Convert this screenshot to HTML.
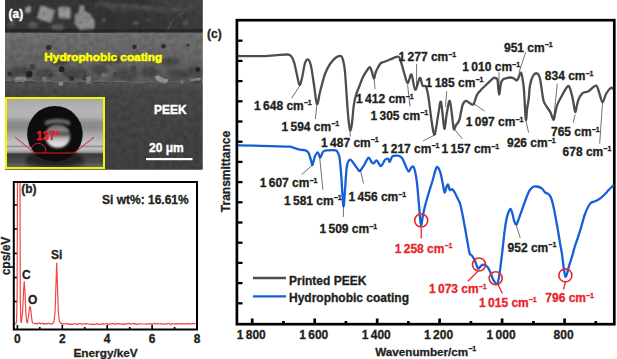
<!DOCTYPE html>
<html><head><meta charset="utf-8"><style>
html,body{margin:0;padding:0;background:#fff;}
body{width:617px;height:359px;position:relative;overflow:hidden;font-family:"Liberation Sans",sans-serif;}
svg{position:absolute;left:0;top:0;}
.t{font-family:"Liberation Sans",sans-serif;font-weight:bold;font-size:12px;fill:#231f20;stroke:#231f20;stroke-width:0.3px;}
.sup{font-size:7px;}
</style></head><body>

<svg width="617" height="359" viewBox="0 0 617 359">
<defs><clipPath id="semclip"><rect x="5" y="0" width="197.5" height="169.5"/></clipPath><clipPath id="insclip"><rect x="6" y="98" width="98" height="70"/></clipPath><clipPath id="dropclip"><circle cx="54.9" cy="133.8" r="27.8"/></clipPath><filter id="bl1" x="-20%" y="-20%" width="140%" height="140%"><feGaussianBlur stdDeviation="0.8"/></filter><filter id="bl2" x="-30%" y="-30%" width="160%" height="160%"><feGaussianBlur stdDeviation="1.6"/></filter><filter id="bl3" x="-30%" y="-30%" width="160%" height="160%"><feGaussianBlur stdDeviation="3"/></filter><filter id="bl05" x="-30%" y="-30%" width="160%" height="160%"><feGaussianBlur stdDeviation="0.5"/></filter><filter id="noise" x="0" y="0" width="100%" height="100%"><feTurbulence type="fractalNoise" baseFrequency="0.18" numOctaves="2" seed="7"/><feColorMatrix type="matrix" values="0 0 0 0 0  0 0 0 0 0  0 0 0 0 0  0 0 0 -1.6 1.15"/></filter><linearGradient id="peekg" x1="0" y1="0" x2="0" y2="1"><stop offset="0" stop-color="#555"/><stop offset="0.1" stop-color="#4a4a4a"/><stop offset="1" stop-color="#424242"/></linearGradient><linearGradient id="coatg" x1="0" y1="0" x2="0" y2="1"><stop offset="0" stop-color="#7e7e7e"/><stop offset="0.1" stop-color="#737373"/><stop offset="0.5" stop-color="#6a6a6a"/><stop offset="1" stop-color="#5e5e5e"/></linearGradient><linearGradient id="topg" x1="0" y1="0" x2="1" y2="0"><stop offset="0" stop-color="#3a3a3a"/><stop offset="0.6" stop-color="#363636"/><stop offset="1" stop-color="#404040"/></linearGradient><linearGradient id="insg" x1="0" y1="0" x2="0" y2="1"><stop offset="0" stop-color="#a4a4a4"/><stop offset="0.15" stop-color="#b4b4b4"/><stop offset="0.27" stop-color="#b2b2b2"/><stop offset="0.36" stop-color="#8c8c8c"/><stop offset="0.43" stop-color="#8a8a8a"/><stop offset="0.52" stop-color="#a6a6a6"/><stop offset="0.62" stop-color="#bdbdbd"/><stop offset="0.665" stop-color="#c2c2c2"/><stop offset="0.685" stop-color="#8e8e8e"/><stop offset="0.71" stop-color="#c6c6c6"/><stop offset="0.75" stop-color="#aaaaaa"/><stop offset="0.775" stop-color="#8a8a8a"/><stop offset="0.79" stop-color="#3c3c3c"/><stop offset="0.9" stop-color="#4e4e4e"/><stop offset="0.96" stop-color="#6a6a6a"/><stop offset="1" stop-color="#5a5a5a"/></linearGradient><linearGradient id="hlg" x1="0" y1="0" x2="0" y2="1"><stop offset="0" stop-color="#555"/><stop offset="0.25" stop-color="#8a8a8a"/><stop offset="0.42" stop-color="#4a4a4a"/><stop offset="0.6" stop-color="#b8b8b8"/><stop offset="0.85" stop-color="#e4e4e4"/><stop offset="1" stop-color="#c0c0c0"/></linearGradient><radialGradient id="reflg" cx="0.5" cy="0.1" r="0.8"><stop offset="0" stop-color="#151515"/><stop offset="0.7" stop-color="#262626"/><stop offset="1" stop-color="#3a3a3a" stop-opacity="0"/></radialGradient></defs>
<g clip-path="url(#semclip)">
<rect x="5" y="0" width="198" height="170" fill="url(#peekg)"/>
<rect x="5" y="0" width="198" height="31" fill="url(#topg)"/>
<path d="M100,2 L185,8 L192,13 L105,8 Z" fill="#505050" filter="url(#bl2)"/>
<path d="M150,0 L203,0 L203,12 L170,6 Z" fill="#464646" filter="url(#bl2)"/>
<path d="M168,30 Q172,16 184,13" stroke="#5a5a5a" stroke-width="1" fill="none" filter="url(#bl05)"/>
<rect x="5" y="83" width="198" height="87" fill="url(#peekg)"/>
<path d="M5,32 L100,32.5 L203,30 L203,80 L175,81.5 L140,82.5 L100,81.2 L80,81.5 L55,82 L30,80.8 L5,81.5 Z" fill="url(#coatg)"/>
<rect x="5" y="29" width="198" height="3.6" fill="#2a2a2a" filter="url(#bl05)"/>
<g filter="url(#bl1)">
<ellipse cx="33" cy="25" rx="5" ry="3.5" fill="#5c5c5c"/>
<ellipse cx="58" cy="27" rx="7" ry="3.2" fill="#5e5e5e"/>
<ellipse cx="12" cy="24" rx="4" ry="3" fill="#555"/>
<path d="M40.8,4.9 L55.4,10.3 L51.1,23.1 L36.5,18.2 Z" fill="#959595"/>
<path d="M38,6 L40.8,4.9 L36.5,18.2 L34.5,17 Z" fill="#2e2e2e"/>
<path d="M58,7.5 Q64,5.5 70.6,7.8 L70.5,19 L58.4,18.2 Z" fill="#999"/>
<path d="M79,5.5 L84,5 L85,11 L90,14 L95,21 L94.5,29 L80,30 L74.5,24 L75,15 L79,12 Z" fill="#8f8f8f"/>
<path d="M25,8 Q28,5 31,7 L31,12 Q27,14 25,12 Z" fill="#a0a0a0"/>
<ellipse cx="100" cy="4" rx="6" ry="2" fill="#4a4a4a"/>
<ellipse cx="104" cy="20" rx="2" ry="1.5" fill="#6a6a6a"/>
<ellipse cx="136" cy="23" rx="2.5" ry="2" fill="#606060"/>
<ellipse cx="148" cy="20" rx="1.5" ry="1.5" fill="#5a5a5a"/>
<ellipse cx="186" cy="23" rx="3" ry="2" fill="#5e5e5e"/>
<ellipse cx="120" cy="10" rx="10" ry="2" fill="#444"/>
</g>
<g filter="url(#bl2)" fill="#4c4c4c">
<ellipse cx="20" cy="72" rx="12" ry="5"/>
<ellipse cx="45" cy="74" rx="10" ry="5"/>
<ellipse cx="75" cy="73" rx="12" ry="6"/>
<ellipse cx="100" cy="70" rx="8" ry="5"/>
<ellipse cx="125" cy="75" rx="12" ry="5"/>
<ellipse cx="150" cy="72" rx="10" ry="5"/>
<ellipse cx="178" cy="74" rx="12" ry="5"/>
<ellipse cx="195" cy="72" rx="8" ry="6"/>
<ellipse cx="60" cy="62" rx="10" ry="4"/>
<ellipse cx="110" cy="60" rx="12" ry="4"/>
<ellipse cx="170" cy="62" rx="10" ry="4"/>
</g>
<circle cx="48.8" cy="47.5" r="2.8" fill="#383838" filter="url(#bl05)"/>
<circle cx="32.5" cy="66.9" r="3" fill="#454545" filter="url(#bl05)"/>
<circle cx="29.3" cy="74.2" r="3.2" fill="#242424" filter="url(#bl05)"/>
<circle cx="61.7" cy="69.3" r="3" fill="#262626" filter="url(#bl05)"/>
<circle cx="9.9" cy="74.2" r="2.4" fill="#333" filter="url(#bl05)"/>
<circle cx="71.5" cy="78.2" r="2.4" fill="#303030" filter="url(#bl05)"/>
<circle cx="50.4" cy="75" r="2" fill="#404040" filter="url(#bl05)"/>
<circle cx="84.4" cy="77.4" r="2.8" fill="#444" filter="url(#bl05)"/>
<circle cx="134.5" cy="46.7" r="2.3" fill="#303030" filter="url(#bl05)"/>
<circle cx="163.5" cy="46.3" r="2.3" fill="#303030" filter="url(#bl05)"/>
<circle cx="188" cy="45" r="1.5" fill="#383838" filter="url(#bl05)"/>
<circle cx="197.7" cy="69.5" r="2.4" fill="#282828" filter="url(#bl05)"/>
<circle cx="133.4" cy="68.7" r="3.2" fill="#4c4c4c" filter="url(#bl05)"/>
<circle cx="176" cy="72" r="1.8" fill="#4a4a4a" filter="url(#bl05)"/>
<circle cx="115" cy="74" r="2.2" fill="#474747" filter="url(#bl05)"/>
<g filter="url(#bl05)" fill="#8e8e8e">
<path d="M14.7,78 Q18,75.5 22,77 Q26,76 26.5,80 L24,82.5 Q19,81 15,82.3 Z"/>
<path d="M42,77 L47,76.8 L46,83 L42.5,82 Z" fill="#7c7c7c"/>
<path d="M58.5,82 Q61,81 63.3,82.5 L62.5,86 L58.5,85.5 Z"/>
<path d="M86,77 L91,76.6 L90.5,84 L86.5,83.5 Z" fill="#858585"/>
<path d="M101.7,72.5 L108,74 L107,77.5 L102,77 Z" fill="#7a7a7a"/>
<path d="M155,76 L159,75.4 L163,78 L168.4,79.5 L166,83.7 L160,82 L156,80 Z" fill="#9a9a9a"/>
<path d="M180,80.5 L183.5,80.4 L183,83.7 L180.5,83.5 Z" fill="#888"/>
<path d="M190,79.5 L196,77.9 L201,78 L200,80.4 L191,81 Z" fill="#8a8a8a"/>
<path d="M5,81 L12,79.5 L20,81.5 L30,80 L38,82 L47,80.5 L55,82.5 L64,81 L72,82.8 L80,81 L90,82.5 L100,80.8 L110,82 L122,81.5 L140,83 L150,81.5 L162,83 L175,81.5 L188,82 L203,79.5" stroke="#727272" stroke-width="1.1" fill="none"/>
</g>
<rect x="5" y="0" width="198" height="170" filter="url(#noise)" opacity="0.18"/>
<text x="44.3" y="60.5" class="t" style="fill:#ffff00;stroke:#ffff00;stroke-width:0.6px;font-size:11.8px">Hydrophobic coating</text>
<text x="154" y="114" class="t" style="fill:#fff;stroke:#fff;stroke-width:0.4px">PEEK</text>
<text x="149" y="152" class="t" style="fill:#fff;stroke:#fff;stroke-width:0.4px">20 μm</text>
<rect x="146" y="158" width="46.5" height="2.2" fill="#fff"/>
<text x="8.5" y="18.2" class="t" style="fill:#fff;stroke:#fff;stroke-width:0.4px">(a)</text>
</g>
<g clip-path="url(#insclip)">
<rect x="5" y="97" width="100" height="72" fill="url(#insg)"/>
<ellipse cx="55" cy="162" rx="30" ry="12" fill="url(#reflg)" filter="url(#bl2)"/>
<circle cx="54.9" cy="133.8" r="27.8" fill="#0c0c0c" filter="url(#bl05)"/>
<g clip-path="url(#dropclip)">
<ellipse cx="57.8" cy="136" rx="12.5" ry="12" fill="url(#hlg)" filter="url(#bl1)"/>
<path d="M45,121 Q58,116 70,121 L70,125.5 Q58,121 45,125.5 Z" fill="#666" filter="url(#bl1)"/>
</g>
<rect x="5" y="152.2" width="100" height="17" fill="#202020" opacity="0.08"/>
<g stroke="#e01e25" fill="none" stroke-width="1">
<polyline points="15,137 34.5,153 74,153 94.2,137"/>
<path d="M31.2,148.6 A7.4,7.4 0 0 1 45.5,153"/>
</g>
<text x="36" y="140.3" class="t" style="fill:#ee1c24;stroke:#ee1c24;stroke-width:0.3px;font-size:12.3px;letter-spacing:-0.4px">137°</text>
</g>
<rect x="6" y="98" width="98" height="70" fill="none" stroke="#f5f500" stroke-width="2"/>
<rect x="236.9" y="20.2" width="377.4" height="304" fill="none" stroke="#000" stroke-width="2.7"/>
<line x1="237" y1="40.7" x2="242.5" y2="40.7" stroke="#000" stroke-width="2.3"/>
<line x1="237" y1="60.9" x2="242.5" y2="60.9" stroke="#000" stroke-width="2.3"/>
<line x1="237" y1="81.1" x2="242.5" y2="81.1" stroke="#000" stroke-width="2.3"/>
<line x1="237" y1="101.3" x2="242.5" y2="101.3" stroke="#000" stroke-width="2.3"/>
<line x1="237" y1="121.5" x2="242.5" y2="121.5" stroke="#000" stroke-width="2.3"/>
<line x1="237" y1="141.7" x2="242.5" y2="141.7" stroke="#000" stroke-width="2.3"/>
<line x1="237" y1="161.9" x2="242.5" y2="161.9" stroke="#000" stroke-width="2.3"/>
<line x1="237" y1="182.1" x2="242.5" y2="182.1" stroke="#000" stroke-width="2.3"/>
<line x1="237" y1="202.3" x2="242.5" y2="202.3" stroke="#000" stroke-width="2.3"/>
<line x1="237" y1="222.5" x2="242.5" y2="222.5" stroke="#000" stroke-width="2.3"/>
<line x1="237" y1="242.7" x2="242.5" y2="242.7" stroke="#000" stroke-width="2.3"/>
<line x1="237" y1="262.9" x2="242.5" y2="262.9" stroke="#000" stroke-width="2.3"/>
<line x1="237" y1="283.1" x2="242.5" y2="283.1" stroke="#000" stroke-width="2.3"/>
<line x1="237" y1="303.3" x2="242.5" y2="303.3" stroke="#000" stroke-width="2.3"/>
<line x1="252.2" y1="324" x2="252.2" y2="318.5" stroke="#000" stroke-width="2.7"/>
<text x="251.2" y="338.5" text-anchor="middle" class="t">1 800</text>
<line x1="283.4" y1="324" x2="283.4" y2="321" stroke="#000" stroke-width="2.7"/>
<line x1="314.7" y1="324" x2="314.7" y2="318.5" stroke="#000" stroke-width="2.7"/>
<text x="313.7" y="338.5" text-anchor="middle" class="t">1 600</text>
<line x1="345.9" y1="324" x2="345.9" y2="321" stroke="#000" stroke-width="2.7"/>
<line x1="377.2" y1="324" x2="377.2" y2="318.5" stroke="#000" stroke-width="2.7"/>
<text x="376.2" y="338.5" text-anchor="middle" class="t">1 400</text>
<line x1="408.4" y1="324" x2="408.4" y2="321" stroke="#000" stroke-width="2.7"/>
<line x1="439.6" y1="324" x2="439.6" y2="318.5" stroke="#000" stroke-width="2.7"/>
<text x="438.6" y="338.5" text-anchor="middle" class="t">1 200</text>
<line x1="470.9" y1="324" x2="470.9" y2="321" stroke="#000" stroke-width="2.7"/>
<line x1="502.1" y1="324" x2="502.1" y2="318.5" stroke="#000" stroke-width="2.7"/>
<text x="501.1" y="338.5" text-anchor="middle" class="t">1 000</text>
<line x1="533.4" y1="324" x2="533.4" y2="321" stroke="#000" stroke-width="2.7"/>
<line x1="564.6" y1="324" x2="564.6" y2="318.5" stroke="#000" stroke-width="2.7"/>
<text x="563.6" y="338.5" text-anchor="middle" class="t">800</text>
<line x1="595.8" y1="324" x2="595.8" y2="321" stroke="#000" stroke-width="2.7"/>
<text x="425.7" y="355.5" text-anchor="middle" class="t" style="font-size:11.7px">Wavenumber/cm<tspan class="sup" dy="-4.5">−1</tspan></text>
<text transform="translate(230,171.5) rotate(-90)" text-anchor="middle" class="t">Transmittance</text>
<text x="207" y="37.6" class="t">(c)</text>
<path d="M238,56 C241.67,56.03 253.83,56.32 260,56.2 C266.17,56.08 270.50,55.58 275,55.3 C279.50,55.02 284.33,54.38 287,54.5 C289.67,54.62 289.83,54.75 291,56 C292.17,57.25 293.00,58.83 294,62 C295.00,65.17 296.08,71.17 297,75 C297.92,78.83 298.67,84.50 299.5,85 C300.33,85.50 301.08,81.67 302,78 C302.92,74.33 304.00,66.08 305,63 C306.00,59.92 307.00,59.00 308,59.5 C309.00,60.00 310.00,61.75 311,66 C312.00,70.25 313.00,78.67 314,85 C315.00,91.33 316.00,102.83 317,104 C318.00,105.17 318.67,97.00 320,92 C321.33,87.00 323.33,78.67 325,74 C326.67,69.33 328.17,66.75 330,64 C331.83,61.25 334.17,58.80 336,57.5 C337.83,56.20 339.83,55.78 341,56.2 C342.17,56.62 342.33,57.37 343,60 C343.67,62.63 344.25,64.00 345,72 C345.75,80.00 346.83,99.33 347.5,108 C348.17,116.67 348.50,120.25 349,124 C349.50,127.75 350.00,130.67 350.5,130.5 C351.00,130.33 351.45,127.20 352,123 C352.55,118.80 353.13,109.97 353.8,105.3 C354.47,100.63 355.17,97.93 356,95 C356.83,92.07 357.63,90.70 358.8,87.7 C359.97,84.70 361.53,80.03 363,77 C364.47,73.97 366.43,71.12 367.6,69.5 C368.77,67.88 369.27,66.88 370,67.3 C370.73,67.72 371.35,70.12 372,72 C372.65,73.88 373.32,78.43 373.9,78.6 C374.48,78.77 375.03,74.43 375.5,73 C375.97,71.57 375.85,71.60 376.7,70 C377.55,68.40 379.30,64.78 380.6,63.4 C381.90,62.02 382.93,62.35 384.5,61.7 C386.07,61.05 387.87,60.33 390,59.5 C392.13,58.67 395.72,56.98 397.3,56.7 C398.88,56.42 398.67,56.22 399.5,57.8 C400.33,59.38 401.43,63.33 402.3,66.2 C403.17,69.07 403.78,72.13 404.7,75 C405.62,77.87 406.68,83.50 407.8,83.4 C408.92,83.30 410.17,73.35 411.4,74.4 C412.63,75.45 413.80,89.12 415.2,89.7 C416.60,90.28 418.58,78.60 419.8,77.9 C421.02,77.20 421.48,84.03 422.5,85.5 C423.52,86.97 424.92,84.83 425.9,86.7 C426.88,88.57 427.43,90.85 428.4,96.7 C429.37,102.55 430.65,115.53 431.7,121.8 C432.75,128.07 433.58,135.70 434.7,134.3 C435.82,132.90 437.37,118.83 438.4,113.4 C439.43,107.97 440.07,100.30 440.9,101.7 C441.73,103.10 442.77,117.33 443.4,121.8 C444.03,126.27 444.13,129.90 444.7,128.5 C445.27,127.10 445.95,118.00 446.8,113.4 C447.65,108.80 448.83,99.78 449.8,100.9 C450.77,102.02 451.92,115.37 452.6,120.1 C453.28,124.83 453.33,128.45 453.9,129.3 C454.47,130.15 455.10,126.73 456,125.2 C456.90,123.67 458.20,123.47 459.3,120.1 C460.40,116.73 461.48,108.20 462.6,105 C463.72,101.80 464.73,101.17 466,100.9 C467.27,100.63 468.95,102.85 470.2,103.4 C471.45,103.95 472.38,105.60 473.5,104.2 C474.62,102.80 475.82,97.22 476.9,95 C477.98,92.78 478.48,92.57 480,90.9 C481.52,89.23 483.75,87.15 486,85 C488.25,82.85 491.83,79.08 493.5,78 C495.17,76.92 495.33,78.17 496,78.5 C496.67,78.83 496.98,77.33 497.5,80 C498.02,82.67 498.52,94.00 499.1,94.5 C499.68,95.00 500.35,85.50 501,83 C501.65,80.50 502.28,80.25 503,79.5 C503.72,78.75 504.13,78.83 505.3,78.5 C506.47,78.17 508.55,77.50 510,77.5 C511.45,77.50 512.92,78.00 514,78.5 C515.08,79.00 515.83,80.42 516.5,80.5 C517.17,80.58 517.33,80.30 518,79 C518.67,77.70 519.83,73.20 520.5,72.7 C521.17,72.20 521.43,73.25 522,76 C522.57,78.75 523.27,81.95 523.9,89.2 C524.53,96.45 525.25,116.37 525.8,119.5 C526.35,122.63 526.72,111.42 527.2,108 C527.68,104.58 528.23,102.78 528.7,99 C529.17,95.22 529.28,89.13 530,85.3 C530.72,81.47 531.87,78.00 533,76 C534.13,74.00 535.68,73.05 536.8,73.3 C537.92,73.55 538.92,75.05 539.7,77.5 C540.48,79.95 540.85,84.08 541.5,88 C542.15,91.92 542.60,97.70 543.6,101 C544.60,104.30 546.35,105.87 547.5,107.8 C548.65,109.73 549.52,110.60 550.5,112.6 C551.48,114.60 552.65,119.57 553.4,119.8 C554.15,120.03 554.35,116.50 555,114 C555.65,111.50 556.10,107.95 557.3,104.8 C558.50,101.65 560.75,97.82 562.2,95.1 C563.65,92.38 564.87,89.97 566,88.5 C567.13,87.03 568.02,85.20 569,86.3 C569.98,87.40 571.15,92.32 571.9,95.1 C572.65,97.88 572.95,100.18 573.5,103 C574.05,105.82 574.65,111.50 575.2,112 C575.75,112.50 576.22,108.17 576.8,106 C577.38,103.83 577.73,101.15 578.7,99 C579.67,96.85 580.97,94.40 582.6,93.1 C584.23,91.80 586.27,92.45 588.5,91.2 C590.73,89.95 594.25,85.47 596,85.6 C597.75,85.73 597.92,89.22 599,92 C600.08,94.78 601.33,101.97 602.5,102.3 C603.67,102.63 604.62,96.40 606,94 C607.38,91.60 609.63,88.73 610.8,87.9 C611.97,87.07 612.63,88.82 613,89" fill="none" stroke="#4d4d4d" stroke-width="2.3" stroke-linejoin="round"/>
<path d="M238,145.3 C241.67,145.38 252.00,145.58 260,145.8 C268.00,146.02 281.00,146.45 286,146.6 C291.00,146.75 287.72,146.20 290,146.7 C292.28,147.20 297.10,149.00 299.7,149.6 C302.30,150.20 304.13,149.77 305.6,150.3 C307.07,150.83 307.60,151.13 308.5,152.8 C309.40,154.47 310.33,158.27 311,160.3 C311.67,162.33 311.85,165.65 312.5,165 C313.15,164.35 314.02,158.52 314.9,156.4 C315.78,154.28 316.92,152.12 317.8,152.3 C318.68,152.48 319.32,157.58 320.2,157.5 C321.08,157.42 321.97,152.98 323.1,151.8 C324.23,150.62 324.88,150.63 327,150.4 C329.12,150.17 333.93,149.88 335.8,150.4 C337.67,150.92 337.57,152.23 338.2,153.5 C338.83,154.77 339.10,154.42 339.6,158 C340.10,161.58 340.57,167.00 341.2,175 C341.83,183.00 342.77,203.50 343.4,206 C344.03,208.50 344.48,196.13 345,190 C345.52,183.87 346.00,173.87 346.5,169.2 C347.00,164.53 347.30,163.57 348,162 C348.70,160.43 349.57,159.30 350.7,159.8 C351.83,160.30 353.58,163.38 354.8,165 C356.02,166.62 357.13,168.52 358,169.5 C358.87,170.48 358.97,171.65 360,170.9 C361.03,170.15 362.80,167.20 364.2,165 C365.60,162.80 367.18,158.22 368.4,157.7 C369.62,157.18 370.63,160.95 371.5,161.9 C372.37,162.85 372.72,163.63 373.6,163.4 C374.48,163.17 375.58,160.05 376.8,160.5 C378.02,160.95 379.52,166.22 380.9,166.1 C382.28,165.98 383.88,161.02 385.1,159.8 C386.32,158.58 387.43,158.45 388.2,158.8 C388.97,159.15 389.00,162.32 389.7,161.9 C390.40,161.48 391.08,157.33 392.4,156.3 C393.72,155.27 396.03,155.47 397.6,155.7 C399.17,155.93 400.73,156.65 401.8,157.7 C402.87,158.75 403.25,160.35 404,162 C404.75,163.65 405.50,166.02 406.3,167.6 C407.10,169.18 408.02,171.43 408.8,171.5 C409.58,171.57 410.28,168.85 411,168 C411.72,167.15 412.43,165.90 413.1,166.4 C413.77,166.90 414.35,168.23 415,171 C415.65,173.77 416.33,177.33 417,183 C417.67,188.67 418.35,198.00 419,205 C419.65,212.00 420.23,223.33 420.9,225 C421.57,226.67 422.28,218.28 423,215 C423.72,211.72 424.20,209.13 425.2,205.3 C426.20,201.47 427.75,196.18 429,192 C430.25,187.82 431.62,183.87 432.7,180.2 C433.78,176.53 434.70,172.20 435.5,170 C436.30,167.80 436.67,166.50 437.5,167 C438.33,167.50 439.58,170.00 440.5,173 C441.42,176.00 442.32,181.75 443,185 C443.68,188.25 444.02,192.17 444.6,192.5 C445.18,192.83 445.92,188.33 446.5,187 C447.08,185.67 447.55,184.00 448.1,184.5 C448.65,185.00 449.10,189.22 449.8,190 C450.50,190.78 451.43,188.70 452.3,189.2 C453.17,189.70 454.07,191.37 455,193 C455.93,194.63 457.07,197.27 457.9,199 C458.73,200.73 459.32,201.23 460,203.4 C460.68,205.57 461.07,207.37 462,212 C462.93,216.63 464.60,225.70 465.6,231.2 C466.60,236.70 467.32,241.28 468,245 C468.68,248.72 468.95,251.62 469.7,253.5 C470.45,255.38 471.62,255.05 472.5,256.3 C473.38,257.55 474.07,258.97 475,261 C475.93,263.03 477.10,267.67 478.1,268.5 C479.10,269.33 480.07,266.65 481,266 C481.93,265.35 482.55,264.37 483.7,264.6 C484.85,264.83 486.68,265.83 487.9,267.4 C489.12,268.97 490.08,271.90 491,274 C491.92,276.10 492.40,278.33 493.4,280 C494.40,281.67 496.07,284.50 497,284 C497.93,283.50 498.43,279.77 499,277 C499.57,274.23 499.82,271.90 500.4,267.4 C500.98,262.90 501.80,256.03 502.5,250 C503.20,243.97 503.93,236.37 504.6,231.2 C505.27,226.03 505.82,222.25 506.5,219 C507.18,215.75 508.00,213.38 508.7,211.7 C509.40,210.02 510.07,208.52 510.7,208.9 C511.33,209.28 511.90,211.90 512.5,214 C513.10,216.10 513.68,219.78 514.3,221.5 C514.92,223.22 515.58,224.38 516.2,224.3 C516.82,224.22 516.20,225.72 518,221 C519.80,216.28 525.00,201.17 527,196 C529.00,190.83 528.93,191.55 530,190 C531.07,188.45 532.23,187.28 533.4,186.7 C534.57,186.12 535.60,186.22 537,186.5 C538.40,186.78 540.43,187.40 541.8,188.4 C543.17,189.40 544.00,191.48 545.2,192.5 C546.40,193.52 547.95,193.42 549,194.5 C550.05,195.58 550.75,196.95 551.5,199 C552.25,201.05 552.58,202.47 553.5,206.8 C554.42,211.13 555.92,218.97 557,225 C558.08,231.03 559.18,238.23 560,243 C560.82,247.77 561.32,249.77 561.9,253.6 C562.48,257.43 562.93,262.18 563.5,266 C564.07,269.82 564.68,275.33 565.3,276.5 C565.92,277.67 566.58,274.75 567.2,273 C567.82,271.25 568.22,268.67 569,266 C569.78,263.33 570.90,260.33 571.9,257 C572.90,253.67 573.60,250.47 575,246 C576.40,241.53 578.63,235.53 580.3,230.2 C581.97,224.87 583.33,218.47 585,214 C586.67,209.53 588.58,205.52 590.3,203.4 C592.02,201.28 593.63,202.13 595.3,201.3 C596.97,200.47 598.68,199.62 600.3,198.4 C601.92,197.18 603.60,195.40 605,194 C606.40,192.60 607.25,191.50 608.7,190 C610.15,188.50 612.87,185.83 613.7,185" fill="none" stroke="#1560d8" stroke-width="2.3" stroke-linejoin="round"/>
<line x1="291.7" y1="98" x2="299.5" y2="86.3" stroke="#333" stroke-width="0.7"/>
<line x1="315.4" y1="119" x2="316.8" y2="105" stroke="#333" stroke-width="0.7"/>
<line x1="349.8" y1="131" x2="350.3" y2="136.5" stroke="#333" stroke-width="0.7"/>
<line x1="374.3" y1="80" x2="375" y2="89" stroke="#333" stroke-width="0.7"/>
<line x1="407.6" y1="85" x2="410" y2="106.3" stroke="#333" stroke-width="0.7"/>
<line x1="416.6" y1="64" x2="416.6" y2="86" stroke="#333" stroke-width="0.7"/>
<line x1="446.7" y1="91.2" x2="445.5" y2="107" stroke="#333" stroke-width="0.7"/>
<line x1="423" y1="141" x2="436.2" y2="134.2" stroke="#333" stroke-width="0.7"/>
<line x1="462.4" y1="138.9" x2="454.7" y2="129.6" stroke="#333" stroke-width="0.7"/>
<line x1="473.5" y1="103.4" x2="484.6" y2="111.2" stroke="#333" stroke-width="0.7"/>
<line x1="499" y1="72.3" x2="499" y2="93" stroke="#333" stroke-width="0.7"/>
<line x1="525.7" y1="52.3" x2="519" y2="72.3" stroke="#333" stroke-width="0.7"/>
<line x1="557.3" y1="83.7" x2="553.7" y2="118.5" stroke="#333" stroke-width="0.7"/>
<line x1="528.6" y1="132.7" x2="526" y2="121" stroke="#333" stroke-width="0.7"/>
<line x1="575.2" y1="114.3" x2="573.2" y2="122.7" stroke="#333" stroke-width="0.7"/>
<line x1="602.5" y1="103" x2="599.7" y2="143.6" stroke="#333" stroke-width="0.7"/>
<line x1="301.5" y1="174.6" x2="312.6" y2="165" stroke="#333" stroke-width="0.7"/>
<line x1="319.6" y1="156.5" x2="322.9" y2="189.9" stroke="#333" stroke-width="0.7"/>
<line x1="360.2" y1="169" x2="363.5" y2="183.5" stroke="#333" stroke-width="0.7"/>
<line x1="343.4" y1="205" x2="343.4" y2="217" stroke="#333" stroke-width="0.7"/>
<line x1="516.2" y1="225" x2="520.2" y2="237.8" stroke="#333" stroke-width="0.7"/>
<line x1="421.2" y1="227.5" x2="421.2" y2="238.4" stroke="#e8262d" stroke-width="1.3"/>
<line x1="477.9" y1="271.2" x2="467.9" y2="281.2" stroke="#e8262d" stroke-width="1.3"/>
<line x1="498" y1="284.5" x2="502.4" y2="293.5" stroke="#e8262d" stroke-width="1.3"/>
<line x1="565.4" y1="282" x2="563.5" y2="289.5" stroke="#e8262d" stroke-width="1.3"/>
<circle cx="421.2" cy="220.5" r="6.5" fill="none" stroke="#e8262d" stroke-width="1.6"/>
<circle cx="479" cy="264.5" r="6.5" fill="none" stroke="#e8262d" stroke-width="1.6"/>
<circle cx="495.7" cy="278.3" r="6.5" fill="none" stroke="#e8262d" stroke-width="1.6"/>
<circle cx="565.4" cy="275.4" r="6.5" fill="none" stroke="#e8262d" stroke-width="1.6"/>
<text x="254" y="109.6" class="t" style="fill:#231f20;stroke:#231f20">1 648 cm<tspan class="sup" dy="-4.5">−1</tspan></text>
<text x="281.4" y="130.6" class="t" style="fill:#231f20;stroke:#231f20">1 594 cm<tspan class="sup" dy="-4.5">−1</tspan></text>
<text x="321" y="146.9" class="t" style="fill:#231f20;stroke:#231f20">1 487 cm<tspan class="sup" dy="-4.5">−1</tspan></text>
<text x="356" y="103.2" class="t" style="fill:#231f20;stroke:#231f20">1 412 cm<tspan class="sup" dy="-4.5">−1</tspan></text>
<text x="370.4" y="119.7" class="t" style="fill:#231f20;stroke:#231f20">1 305 cm<tspan class="sup" dy="-4.5">−1</tspan></text>
<text x="398.5" y="61.0" class="t" style="fill:#231f20;stroke:#231f20">1 277 cm<tspan class="sup" dy="-4.5">−1</tspan></text>
<text x="425.6" y="86.7" class="t" style="fill:#231f20;stroke:#231f20">1 185 cm<tspan class="sup" dy="-4.5">−1</tspan></text>
<text x="381.7" y="152.8" class="t" style="fill:#231f20;stroke:#231f20">1 217 cm<tspan class="sup" dy="-4.5">−1</tspan></text>
<text x="441.5" y="153.0" class="t" style="fill:#231f20;stroke:#231f20">1 157 cm<tspan class="sup" dy="-4.5">−1</tspan></text>
<text x="465.7" y="126.4" class="t" style="fill:#231f20;stroke:#231f20">1 097 cm<tspan class="sup" dy="-4.5">−1</tspan></text>
<text x="462.3" y="71.2" class="t" style="fill:#231f20;stroke:#231f20">1 010 cm<tspan class="sup" dy="-4.5">−1</tspan></text>
<text x="504" y="51.7" class="t" style="fill:#231f20;stroke:#231f20">951 cm<tspan class="sup" dy="-4.5">−1</tspan></text>
<text x="544.8" y="80.2" class="t" style="fill:#231f20;stroke:#231f20">834 cm<tspan class="sup" dy="-4.5">−1</tspan></text>
<text x="507" y="147.3" class="t" style="fill:#231f20;stroke:#231f20">926 cm<tspan class="sup" dy="-4.5">−1</tspan></text>
<text x="551" y="136.2" class="t" style="fill:#231f20;stroke:#231f20">765 cm<tspan class="sup" dy="-4.5">−1</tspan></text>
<text x="562.6" y="155.7" class="t" style="fill:#231f20;stroke:#231f20">678 cm<tspan class="sup" dy="-4.5">−1</tspan></text>
<text x="259.7" y="187.2" class="t" style="fill:#231f20;stroke:#231f20">1 607 cm<tspan class="sup" dy="-4.5">−1</tspan></text>
<text x="283.9" y="204.7" class="t" style="fill:#231f20;stroke:#231f20">1 581 cm<tspan class="sup" dy="-4.5">−1</tspan></text>
<text x="348.5" y="201.2" class="t" style="fill:#231f20;stroke:#231f20">1 456 cm<tspan class="sup" dy="-4.5">−1</tspan></text>
<text x="319.4" y="233.0" class="t" style="fill:#231f20;stroke:#231f20">1 509 cm<tspan class="sup" dy="-4.5">−1</tspan></text>
<text x="507.6" y="251.7" class="t" style="fill:#231f20;stroke:#231f20">952 cm<tspan class="sup" dy="-4.5">−1</tspan></text>
<text x="394.7" y="252.7" class="t" style="fill:#e8262d;stroke:#e8262d">1 258 cm<tspan class="sup" dy="-4.5">−1</tspan></text>
<text x="428.9" y="293.0" class="t" style="fill:#e8262d;stroke:#e8262d">1 073 cm<tspan class="sup" dy="-4.5">−1</tspan></text>
<text x="479" y="306.7" class="t" style="fill:#e8262d;stroke:#e8262d">1 015 cm<tspan class="sup" dy="-4.5">−1</tspan></text>
<text x="545.3" y="302.2" class="t" style="fill:#e8262d;stroke:#e8262d">796 cm<tspan class="sup" dy="-4.5">−1</tspan></text>
<line x1="253" y1="278" x2="286" y2="278" stroke="#4d4d4d" stroke-width="2.3"/>
<line x1="253" y1="296.4" x2="286" y2="296.4" stroke="#1560d8" stroke-width="2.3"/>
<text x="289" y="284.8" class="t">Printed PEEK</text>
<text x="289" y="301.5" class="t">Hydrophobic coating</text>
<rect x="13.8" y="182" width="183.2" height="147.5" fill="none" stroke="#000" stroke-width="2"/>
<line x1="17.4" y1="329.5" x2="17.4" y2="325" stroke="#000" stroke-width="1.6"/>
<text x="17.4" y="343.1" text-anchor="middle" class="t">0</text>
<line x1="39.8" y1="329.5" x2="39.8" y2="327" stroke="#000" stroke-width="1.6"/>
<line x1="62.3" y1="329.5" x2="62.3" y2="325" stroke="#000" stroke-width="1.6"/>
<text x="62.3" y="343.1" text-anchor="middle" class="t">2</text>
<line x1="84.8" y1="329.5" x2="84.8" y2="327" stroke="#000" stroke-width="1.6"/>
<line x1="107.2" y1="329.5" x2="107.2" y2="325" stroke="#000" stroke-width="1.6"/>
<text x="107.2" y="343.1" text-anchor="middle" class="t">4</text>
<line x1="129.7" y1="329.5" x2="129.7" y2="327" stroke="#000" stroke-width="1.6"/>
<line x1="152.1" y1="329.5" x2="152.1" y2="325" stroke="#000" stroke-width="1.6"/>
<text x="152.1" y="343.1" text-anchor="middle" class="t">6</text>
<line x1="174.6" y1="329.5" x2="174.6" y2="327" stroke="#000" stroke-width="1.6"/>
<line x1="197.0" y1="329.5" x2="197.0" y2="325" stroke="#000" stroke-width="1.6"/>
<text x="197.0" y="343.1" text-anchor="middle" class="t">8</text>
<line x1="13.8" y1="205" x2="17" y2="205" stroke="#000" stroke-width="1.6"/>
<line x1="13.8" y1="229" x2="17" y2="229" stroke="#000" stroke-width="1.6"/>
<line x1="13.8" y1="253.4" x2="17" y2="253.4" stroke="#000" stroke-width="1.6"/>
<line x1="13.8" y1="277.5" x2="17" y2="277.5" stroke="#000" stroke-width="1.6"/>
<line x1="13.8" y1="301.5" x2="17" y2="301.5" stroke="#000" stroke-width="1.6"/>
<text x="105.6" y="356.9" text-anchor="middle" class="t" style="font-size:11.8px">Energy/keV</text>
<text transform="translate(10,256) rotate(-90)" text-anchor="middle" class="t">cps/eV</text>
<text x="21.2" y="193.3" class="t">(b)</text>
<text x="102" y="204" class="t">Si wt%: 16.61%</text>
<text x="51" y="258.8" class="t">Si</text>
<text x="22" y="278.5" class="t">C</text>
<text x="28" y="303.5" class="t">O</text>
<clipPath id="edsclip"><rect x="14.8" y="183" width="181.2" height="145.5"/></clipPath>
<polyline points="14.5,324.2 15.8,324 16.6,321 17.1,300 17.5,180 20,180 20.3,300 20.8,321 21.3,322.6 22.6,312 23.6,290 24.2,281.5 24.9,290 25.8,312 26.6,321.5 27.4,323 28.6,316 29.4,308 30,306.5 30.6,308 31.4,316 32.4,322.8 33.5,323.3 34.5,323.7 35.5,323.4 36.5,323.7 37.5,323.8 38.5,323.1 39.5,323.0 40.5,324.0 41.5,323.3 42.5,323.3 43.5,324.2 44.5,323.6 45.5,324.0 46.5,323.6 47.5,323.8 48.5,323.2 49.5,323.8 50.5,324.0 51.5,323.6 52.5,323.9 53.8,322.2 55,313 55.9,287 56.7,263 57.5,287 58.4,313 59.4,321.5 60.5,322.5 61.8,324.1 62.8,323.5 63.8,324.2 64.8,324.0 65.8,323.7 66.8,323.4 67.8,324.3 68.8,323.9 69.8,324.1 70.8,324.3 71.8,324.1 72.8,324.3 73.8,323.8 74.8,324.2 75.8,323.8 76.8,324.3 77.8,324.3 78.8,323.5 79.8,323.5 80.8,323.6 81.8,324.4 82.8,323.8 83.8,324.0 84.8,323.7 85.8,323.9 86.8,323.8 87.8,323.8 88.8,324.0 89.8,324.0 90.8,324.3 91.8,324.1 92.8,324.3 93.8,324.3 94.8,324.4 95.8,324.1 96.8,323.6 97.8,324.3 98.8,324.4 99.8,324.3 100.8,324.0 101.8,324.1 102.8,323.6 103.8,324.2 104.8,324.0 105.8,323.7 106.8,323.5 107.8,324.3 108.8,324.4 109.8,323.5 110.8,324.2 111.8,323.8 112.8,323.6 113.8,323.7 114.8,324.2 115.8,324.3 116.8,323.4 117.8,324.0 118.8,323.4 119.8,324.1 120.8,323.7 121.8,324.3 122.8,324.4 123.8,323.9 124.8,324.4 125.8,323.7 126.8,323.5 127.8,324.0 128.8,323.4 129.8,323.6 130.8,323.8 131.8,324.0 132.8,323.6 133.8,323.4 134.8,324.3 135.8,323.7 136.8,324.4 137.8,324.3 138.8,323.8 139.8,323.9 140.8,323.9 141.8,324.0 142.8,324.0 143.8,324.0 144.8,324.0 145.8,324.3 146.8,323.9 147.8,323.8 148.8,324.1 149.8,323.6 150.8,323.7 151.8,324.4 152.8,323.9 153.8,323.9 154.8,323.4 155.8,323.8 156.8,324.0 157.8,323.4 158.8,324.0 159.8,324.0 160.8,323.5 161.8,324.0 162.8,323.9 163.8,324.1 164.8,323.8 165.8,324.1 166.8,324.1 167.8,323.4 168.8,323.5 169.8,324.1 170.8,324.4 171.8,323.7 172.8,323.9 173.8,324.0 174.8,323.7 175.8,323.8 176.8,323.7 177.8,323.8 178.8,324.0 179.8,323.7 180.8,323.8 181.8,324.2 182.8,323.4 183.8,324.0 184.8,324.1 185.8,323.7 186.8,323.6 187.8,324.2 188.8,323.6 189.8,323.6 190.8,323.8 191.8,324.1 192.8,323.5 193.8,323.7 194.8,323.7 195.8,324.2" fill="none" stroke="#f04545" stroke-width="1.2" stroke-linejoin="round" clip-path="url(#edsclip)"/>
</svg>
</body></html>
